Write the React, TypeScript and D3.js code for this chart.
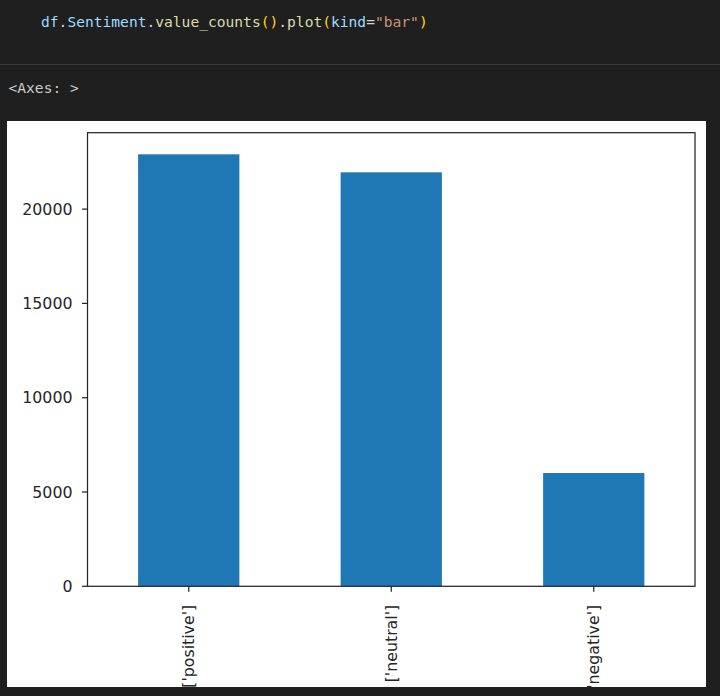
import * as d3 from 'd3';

const CATEGORIES = ["['positive']", "['neutral']", "['negative']"];
const COUNTS = [22906, 21951, 6007];
const Y_TICKS = [0, 5000, 10000, 15000, 20000];

// code line tokens, VS Code dark theme colours
const CODE_TOKENS = [
  { t: 'df', c: '#9cdcfe' },
  { t: '.', c: '#d4d4d4' },
  { t: 'Sentiment', c: '#9cdcfe' },
  { t: '.', c: '#d4d4d4' },
  { t: 'value_counts', c: '#dcdcaa' },
  { t: '()', c: '#ffd700' },
  { t: '.', c: '#d4d4d4' },
  { t: 'plot', c: '#dcdcaa' },
  { t: '(', c: '#ffd700' },
  { t: 'kind', c: '#9cdcfe' },
  { t: '=', c: '#d4d4d4' },
  { t: '"bar"', c: '#ce9178' },
  { t: ')', c: '#ffd700' },
];

const W = 720;
const H = 696;
const BG = '#1f1f1f';
const INK = '#262626';
const BAR = '#1f77b4';

// output image (white) and axes box
const img = { x: 7, y: 121, w: 699, h: 566 };
const plot = { left: 87.5, right: 695, top: 132.7, bottom: 586.3 };
const FS = 15.8; // tick label font
const TICK = 5.5;

export default function App() {
  const x = d3
    .scaleBand<string>()
    .domain(CATEGORIES)
    .range([plot.left, plot.right])
    .paddingInner(0.5)
    .paddingOuter(0.25);
  const y = d3
    .scaleLinear()
    .domain([0, (d3.max(COUNTS) as number) * 1.05])
    .range([plot.bottom, plot.top]);

  const mono = "'DejaVu Sans Mono', monospace";
  const sans = "'DejaVu Sans', sans-serif";

  return (
    <svg
      width={W}
      height={H}
      style={{ position: 'absolute', left: 0, top: 0, display: 'block' }}
    >
      <defs>
        <clipPath id="imgclip">
          <rect x={img.x} y={img.y} width={img.w} height={img.h} />
        </clipPath>
      </defs>
      <rect x={0} y={0} width={W} height={H} fill={BG} />

      {/* code cell */}
      <text x={41} y={27} fontFamily={mono} fontSize={14.6} xmlSpace="preserve">
        {CODE_TOKENS.map((tk, i) => (
          <tspan key={i} fill={tk.c}>{tk.t}</tspan>
        ))}
      </text>
      <line x1={0} x2={W} y1={64.5} y2={64.5} stroke="#3a3a3a" strokeWidth={1} />
      <text x={8.5} y={93} fontFamily={mono} fontSize={14.6} fill="#cccccc">
        {'<Axes: >'}
      </text>

      {/* matplotlib output */}
      <g clipPath="url(#imgclip)">
        <rect x={img.x} y={img.y} width={img.w} height={img.h} fill="#ffffff" />

        {CATEGORIES.map((c, i) => (
          <rect
            key={c}
            x={x(c)}
            y={y(COUNTS[i])}
            width={x.bandwidth()}
            height={y(0) - y(COUNTS[i])}
            fill={BAR}
          />
        ))}

        <rect
          x={plot.left}
          y={plot.top}
          width={plot.right - plot.left}
          height={plot.bottom - plot.top}
          fill="none"
          stroke={INK}
          strokeWidth={1.25}
        />

        {Y_TICKS.map((v) => (
          <g key={v} transform={`translate(0,${y(v)})`}>
            <line x1={plot.left - TICK} x2={plot.left} stroke={INK} strokeWidth={1.25} />
            <text
              x={plot.left - TICK - 9.5}
              dy="0.35em"
              textAnchor="end"
              fontFamily={sans}
              fontSize={FS}
              fill={INK}
            >
              {v}
            </text>
          </g>
        ))}

        {CATEGORIES.map((c) => {
          const cx = (x(c) as number) + x.bandwidth() / 2;
          return (
            <g key={c}>
              <line
                x1={cx}
                x2={cx}
                y1={plot.bottom}
                y2={plot.bottom + TICK}
                stroke={INK}
                strokeWidth={1.25}
              />
              <text
                transform={`translate(${cx},${plot.bottom + 18.5}) rotate(-90)`}
                dy="0.35em"
                textAnchor="end"
                fontFamily={sans}
                fontSize={FS}
                fill={INK}
              >
                {c}
              </text>
            </g>
          );
        })}
      </g>
    </svg>
  );
}
